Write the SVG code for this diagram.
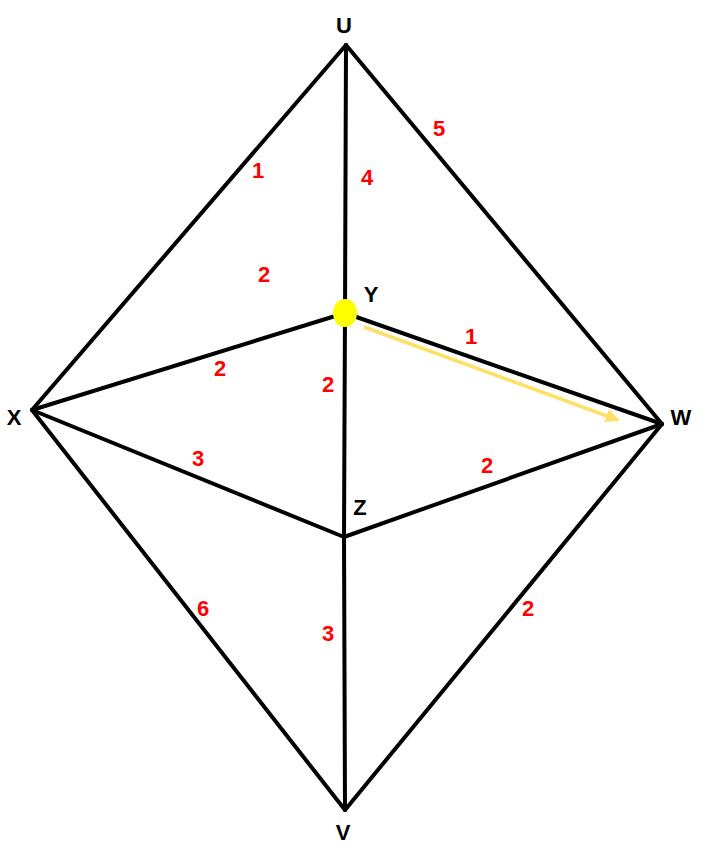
<svg xmlns="http://www.w3.org/2000/svg" width="709" height="856" viewBox="0 0 709 856">
<defs>
<style>
.e{stroke:#000;stroke-width:4;fill:none;stroke-linecap:round}
.w{fill:#ff0000;font-family:"Liberation Sans",Arial,sans-serif;font-weight:bold;font-size:22px;text-anchor:middle;dominant-baseline:central}
.n{fill:#000;font-family:"Liberation Sans",Arial,sans-serif;font-weight:bold;font-size:22px;text-anchor:middle;dominant-baseline:central}
</style>
<marker id="ah" markerWidth="4" markerHeight="4" refX="3.5" refY="2" orient="auto" markerUnits="strokeWidth">
<path d="M0,0 L4,2 L0,4 Z" fill="#FFE066"/>
</marker>
</defs>
<rect width="709" height="856" fill="#fff"/>
<g id="connectors">
<line class="e" x1="346" y1="45" x2="32" y2="410"/>
<line class="e" x1="346" y1="45" x2="662" y2="424"/>
<line class="e" x1="346" y1="45" x2="345" y2="313"/>
<line class="e" x1="345" y1="313" x2="32" y2="410"/>
<line class="e" x1="345" y1="313" x2="662" y2="424"/>
<line class="e" x1="345" y1="313" x2="344" y2="537"/>
<line class="e" x1="32" y1="410" x2="344" y2="537"/>
<line class="e" x1="662" y1="424" x2="344" y2="537"/>
<line class="e" x1="32" y1="410" x2="345" y2="810"/>
<line class="e" x1="662" y1="424" x2="345" y2="810"/>
<line class="e" x1="344" y1="537" x2="345" y2="810"/>
<line x1="364" y1="327" x2="618" y2="420" stroke="#FFE066" stroke-width="3.5" marker-end="url(#ah)"/>
</g>
<g id="weights">
<text class="w" x="258" y="170">1</text>
<text class="w" x="367" y="177">4</text>
<text class="w" x="439" y="128">5</text>
<text class="w" x="264" y="274">2</text>
<text class="w" x="471" y="336">1</text>
<text class="w" x="220" y="368">2</text>
<text class="w" x="328" y="384">2</text>
<text class="w" x="198" y="458">3</text>
<text class="w" x="487" y="465">2</text>
<text class="w" x="203" y="608">6</text>
<text class="w" x="328" y="633">3</text>
<text class="w" x="528" y="608">2</text>
</g>
<g id="node-U"><text class="n" x="344" y="25">U</text></g>
<g id="node-Y"><ellipse cx="345" cy="313" rx="12" ry="14" fill="#ffff00"/><text class="n" x="371" y="294">Y</text></g>
<g id="node-X"><text class="n" x="14" y="417">X</text></g>
<g id="node-W"><text class="n" x="681" y="417">W</text></g>
<g id="node-Z"><text class="n" x="360" y="507">Z</text></g>
<g id="node-V"><text class="n" x="343" y="832">V</text></g>
</svg>
